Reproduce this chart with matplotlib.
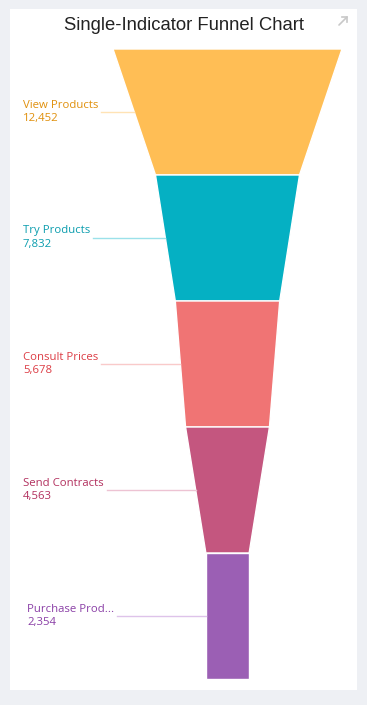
import matplotlib
matplotlib.use("Agg")
import matplotlib.pyplot as plt
from matplotlib.patches import Polygon, Rectangle

stages = ["View Products", "Try Products", "Consult Prices", "Send Contracts", "Purchase Products"]
values = [12452, 7832, 5678, 4563, 2354]
fill_colors = ["#FFBE55", "#05B0C3", "#F07474", "#C4567F", "#9B5FB4"]
text_colors = ["#E0900C", "#0B9DAE", "#DC3C44", "#B2305E", "#8A3FA6"]
line_colors = ["#FFE3B5", "#9BE1EA", "#F9CACA", "#EDC3D3", "#DEC3EA"]

W, H = 367, 705
fig = plt.figure(figsize=(W / 100, H / 100), dpi=100)
fig.patch.set_facecolor("#EEF0F4")
ax = fig.add_axes([0, 0, 1, 1])
ax.set_xlim(0, W)
ax.set_ylim(H, 0)
ax.axis("off")

# white card
ax.add_patch(Rectangle((10, 9), 347, 681, facecolor="white", edgecolor="none"))
ax.text(183.5, 26, "Single-Indicator Funnel Chart", ha="center", va="center",
        fontsize=13.3, family="Liberation Sans", color="#222222")
# expand icon
ax.plot([339, 347], [25, 17], color="#C8C8C8", lw=1.2, solid_capstyle="round")
ax.plot([342, 347, 347], [17, 17, 22], color="#C8C8C8", lw=1.2,
        solid_joinstyle="miter")

cx, top, seg_h, max_w = 227.5, 49, 126, 229
widths = [v / max(values) * max_w for v in values]

fig.canvas.draw()
renderer = fig.canvas.get_renderer()
inv = ax.transData.inverted()

for i, (name, v) in enumerate(zip(stages, values)):
    y0 = top + i * seg_h
    y1 = y0 + seg_h
    w0 = widths[i]
    w1 = widths[i + 1] if i + 1 < len(widths) else widths[i]
    poly = Polygon([(cx - w0 / 2, y0), (cx + w0 / 2, y0),
                    (cx + w1 / 2, y1), (cx - w1 / 2, y1)],
                   closed=True, facecolor=fill_colors[i], edgecolor="white", lw=1)
    ax.add_patch(poly)

    mid = (y0 + y1) / 2
    lx = 27 if i == len(stages) - 1 else 23
    label = name if len(name) <= 15 else name[:13] + "..."
    t = ax.text(lx, mid - 7, label, ha="left", va="center", fontsize=8.2,
                family="Open Sans", color=text_colors[i])
    ax.text(lx, mid + 6.5, f"{v:,}", ha="left", va="center", fontsize=8.2,
            family="Open Sans", color=text_colors[i])
    bb = t.get_window_extent(renderer)
    x_end = inv.transform((bb.x1, bb.y0))[0] + 3
    edge = cx - (w0 + w1) / 4
    ax.plot([x_end, edge], [mid, mid], color=line_colors[i], lw=1)

fig.savefig("out.png", dpi=100, facecolor=fig.get_facecolor())
